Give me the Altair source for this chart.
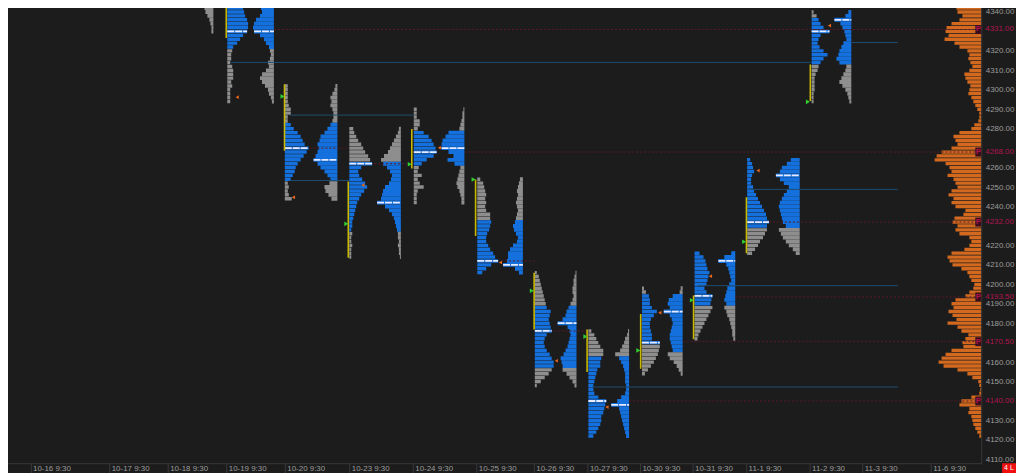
import altair as alt
import pandas as pd

BG = "#1c1c1c"
BLUE = "#1470dc"
GRAY = "#8e8e8e"
VOLC = "#d2691e"
YELLOW = "#c9b800"
GREEN = "#2fd02f"
MARKC = "#e8661e"
STEEL = "#1f4d70"
DOTRED = "#5a1a26"
POCRED = "#b0144f"
TXT = "#9c9c9c"
FONT = "Liberation Sans"

# ---------------- axis data ----------------
day_labels = ["10-16 9:30", "10-17 9:30", "10-18 9:30", "10-19 9:30", "10-20 9:30",
              "10-23 9:30", "10-24 9:30", "10-25 9:30", "10-26 9:30", "10-27 9:30",
              "10-30 9:30", "10-31 9:30", "11-1 9:30", "11-2 9:30", "11-3 9:30", "11-6 9:30"]
day_x = [30.7, 110, 169, 228, 287, 352, 416, 480, 538, 592, 645, 698, 752, 816, 869, 938]
# price labels (those hidden under the POC tags are left out)
price_ticks = [4110, 4120, 4130, 4150, 4160, 4180, 4190, 4200, 4210, 4220, 4240, 4250,
               4260, 4280, 4290, 4300, 4310, 4320, 4340]
X_MAX = 989
Y_MIN, Y_MAX = 4108, 4345.2

# ---------------- daily profiles (2-point rows from top price) ----------------
L_1018 = [2, 2, 2, 2]
R_1018 = [11, 12, 14, 12, 9, 8, 6, 4, 3, 2, 2]
L_1019 = [14, 15, 16, 16, 16, 17, 18, 20, 21, 21, 20, 16, 13, 10, 6, 5, 4, 4, 3, 5, 6, 6, 6, 4, 5, 3, 3, 3, 3]
R_1019 = [17, 17, 17, 15, 13, 12, 14, 18, 20, 21, 20, 14, 10, 8, 5, 4, 3, 4, 6, 5, 8, 12, 14, 12, 9, 6, 5, 3, 2]
L_1020 = [3, 3, 3, 3, 3, 4, 6, 6, 3, 3, 6, 9, 13, 16, 18, 20, 24, 22, 19, 16, 13, 11, 10, 8, 6, 3, 4, 3, 4, 7]
R_1020 = [2, 3, 5, 7, 6, 7, 5, 4, 4, 5, 7, 10, 13, 17, 18, 20, 19, 20, 22, 24, 20, 17, 13, 10, 7, 8, 13, 12, 9, 6]
L_1023 = [4, 5, 7, 9, 12, 14, 16, 19, 21, 23, 12, 9, 10, 13, 16, 18, 15, 12, 10, 8, 7, 6, 5, 4, 3, 3, 2, 3, 2, 2, 3, 2, 2, 2]
R_1023 = [2, 3, 5, 7, 9, 11, 13, 17, 20, 18, 14, 11, 9, 10, 12, 16, 18, 19, 20, 24, 16, 12, 9, 7, 6, 5, 4, 3, 3, 2, 3, 2, 2, 1]
L_1024 = [3, 3, 3, 6, 6, 4, 10, 15, 18, 20, 22, 23, 20, 13, 8, 5, 4, 8, 4, 6, 10, 4, 3, 3, 3]
R_1024 = [1, 2, 2, 3, 4, 5, 16, 19, 22, 23, 23, 16, 11, 17, 10, 4, 5, 6, 7, 8, 7, 5, 4, 3, 3]
L_1025 = [3, 6, 7, 8, 9, 8, 9, 8, 9, 13, 13, 14, 13, 12, 10, 9, 9, 11, 13, 16, 18, 21, 14, 9, 5]
R_1025 = [3, 4, 5, 6, 5, 6, 7, 6, 5, 6, 7, 8, 10, 9, 7, 5, 6, 10, 13, 15, 15, 16, 20, 8, 4]
L_1026 = [2, 4, 5, 6, 7, 8, 9, 10, 11, 12, 16, 15, 14, 15, 16, 17, 12, 10, 9, 10, 12, 15, 17, 19, 19, 17, 14, 10, 6, 2]
R_1026 = [1, 2, 3, 3, 4, 4, 3, 4, 6, 8, 10, 11, 14, 19, 9, 7, 6, 7, 8, 9, 11, 13, 16, 15, 14, 14, 10, 7, 4, 2]
L_1027 = [3, 6, 8, 10, 12, 15, 15, 13, 12, 12, 9, 8, 7, 6, 5, 5, 6, 10, 18, 17, 16, 15, 13, 13, 12, 10, 8, 5]
R_1027 = [1, 2, 4, 5, 7, 9, 14, 10, 8, 6, 5, 4, 4, 4, 3, 3, 4, 8, 12, 18, 10, 9, 8, 7, 6, 5, 4, 3]
L_1030 = [2, 4, 7, 8, 8, 10, 15, 12, 9, 8, 8, 9, 10, 10, 18, 18, 17, 16, 14, 12, 9, 6, 3]
R_1030 = [2, 3, 10, 14, 15, 13, 19, 13, 11, 10, 11, 12, 13, 13, 12, 11, 10, 15, 13, 9, 6, 4, 2]
L_1031 = [5, 9, 11, 12, 13, 15, 14, 13, 12, 10, 12, 18, 17, 16, 18, 16, 14, 12, 10, 8, 6, 4, 3]
R_1031 = [4, 11, 17, 9, 7, 6, 5, 4, 6, 8, 9, 10, 11, 9, 11, 9, 8, 6, 5, 4, 3, 3, 2]
L_1101 = [3, 5, 6, 7, 5, 4, 4, 6, 7, 9, 11, 13, 15, 17, 19, 20, 22, 20, 20, 18, 16, 13, 11, 8, 5]
R_1101 = [9, 13, 18, 20, 24, 20, 16, 11, 13, 16, 18, 20, 21, 20, 19, 18, 17, 14, 21, 19, 17, 14, 11, 7, 4]
L_1102 = [2, 5, 7, 9, 12, 18, 9, 7, 6, 8, 12, 16, 12, 9, 7, 6, 4, 3, 3, 3, 3, 2, 2, 2]
R_1102 = [3, 6, 17, 11, 9, 7, 6, 5, 8, 10, 12, 13, 15, 12, 5, 6, 8, 10, 12, 9, 6, 4, 3, 2]

# left start, right end, top price, left widths, right widths, left VA, right VA, left POC, right POC
profiles = [
    (170, 215, 4350, L_1018, R_1018, None, None, None, None),
    (229, 276, 4350, L_1019, R_1019, (4322, 4350), (4322, 4350), 4330, 4330),
    (287, 340, 4302, L_1020, R_1020, (4254, 4282), (4254, 4282), 4270, 4264),
    (352, 404, 4280, L_1023, R_1023, (4228, 4262), (4228, 4262), 4262, 4242),
    (417, 468, 4290, L_1024, R_1024, (4262, 4278), (4262, 4278), 4268, 4270),
    (481, 527, 4254, L_1025, R_1025, (4206, 4232), (4206, 4232), 4212, 4210),
    (539, 581, 4206, L_1026, R_1026, (4158, 4188), (4158, 4188), 4176, 4180),
    (593, 634, 4176, L_1027, R_1027, (4122, 4162), (4122, 4162), 4140, 4138),
    (647, 688, 4198, L_1030, R_1030, (4170, 4194), (4166, 4194), 4170, 4186),
    (700, 741, 4216, L_1031, R_1031, (4190, 4216), (4190, 4216), 4194, 4212),
    (753, 806, 4264, L_1101, R_1101, (4230, 4264), (4230, 4264), 4232, 4256),
    (818, 858, 4340, L_1102, R_1102, (4314, 4336), (4314, 4340), 4330, 4336),
]

# composite volume profile on the right edge
vol_top = 4344
vol_w = [26, 25, 24, 19, 22, 30, 35, 36, 33, 37, 27, 22, 14, 12, 13, 11, 9, 12, 17, 16,
         14, 11, 12, 13, 10, 8, 6, 4, 2, 2, 3, 7, 10, 22, 28, 26, 24, 30, 40, 45,
         47, 36, 32, 30, 34, 28, 26, 24, 30, 33, 28, 30, 26, 16, 18, 27, 29, 24, 26, 22,
         12, 10, 12, 17, 30, 34, 32, 29, 20, 14, 12, 10, 7, 8, 12, 16, 26, 30, 28, 33,
         29, 25, 34, 24, 20, 13, 16, 19, 18, 30, 36, 40, 43, 38, 24, 14, 9, 3, 2, 1,
         2, 10, 20, 22, 12, 13, 10, 9, 8, 6, 4, 2]

# initial balance (yellow), open (green), close (orange)
ib_x = [228, 286.7, 351, 415, 479.3, 538.3, 591.7, 645.7, 699, 752.3, 816.7]
ib_hi = [4346, 4302.9, 4252.9, 4279.9, 4253.9, 4205.9, 4176.8, 4184.7, 4194.2, 4244.8, 4313]
ib_lo = [4326.6, 4268.7, 4213.6, 4259.5, 4224.8, 4176.8, 4154.9, 4156.6, 4171.7, 4216, 4294.2]
open_x = [284.7, 349, 413, 477.3, 536, 590, 643.3, 697.3, 750, 814.3]
open_p = [4296.6, 4231.1, 4261.7, 4253.9, 4196.7, 4173.1, 4166, 4191.8, 4221.9, 4293.8]
close_x = [239, 295.7, 365.7, 442.7, 504.3, 560.7, 611.7, 665, 716, 764, 836]
close_p = [4296.2, 4244.7, 4251, 4270.2, 4211.2, 4160.7, 4136.9, 4185.4, 4204.2, 4258.5, 4333]

# extended level lines
steel_x0 = [232, 858, 292, 292, 597, 703, 755]
steel_x1 = [817, 905, 417, 352, 905, 905, 905]
steel_p = [4314.1, 4324.3, 4287.0, 4253.4, 4147.2, 4199.3, 4248.8]
naked_p = [4331, 4268, 4232, 4193.5, 4170.5, 4140, 4270, 4262, 4212, 4176]
naked_x0 = [276, 469, 775, 741, 688, 634, 312, 377, 505, 558]
naked_x1 = [985, 985, 985, 985, 985, 985, 352, 413, 540, 593]
poc_levels = [4331, 4268, 4232, 4193.5, 4170.5, 4140]

# ---------------- tables ----------------
bars, pocs = [], []
for xl, xr, top, Lw, Rw, lva, rva, lpoc, rpoc in profiles:
    for i, w in enumerate(Lw):
        p = top - 2 * i
        kind = "va" if (lva and lva[0] <= p <= lva[1]) else "out"
        bars.append(dict(xa=xl, xb=xl + w, ya=p - 0.88, yb=p + 0.88, kind=kind))
        if p == lpoc:
            pocs.append(dict(xa=xl, xb=xl + w, y=p))
    for i, w in enumerate(Rw):
        p = top - 2 * i
        kind = "va" if (rva and rva[0] <= p <= rva[1]) else "out"
        bars.append(dict(xa=xr - w, xb=xr, ya=p - 1, yb=p + 1, kind=kind))
        if p == rpoc:
            pocs.append(dict(xa=xr - w, xb=xr, y=p))
for i, w in enumerate(vol_w):
    p = vol_top - 2 * i
    bars.append(dict(xa=X_MAX - w, xb=X_MAX, ya=p - 0.85, yb=p + 0.85, kind="vol"))
df_bars = pd.DataFrame(bars)
df_poc = pd.DataFrame(pocs)
df_ib = pd.DataFrame(dict(x=ib_x, hi=ib_hi, lo=ib_lo))
df_open = pd.DataFrame(dict(x=open_x, p=open_p))
df_close = pd.DataFrame(dict(x=close_x, p=close_p))
df_steel = pd.DataFrame(dict(xa=steel_x0, xb=steel_x1, p=steel_p))
df_naked = pd.DataFrame(dict(xa=naked_x0, xb=naked_x1, p=naked_p))
df_lab = pd.DataFrame(dict(p=poc_levels,
                           lo=[v - 2.3 for v in poc_levels],
                           hi=[v + 2.3 for v in poc_levels],
                           txt=[f"{v:.2f}" for v in poc_levels]))

xs = alt.Scale(domain=[0, X_MAX], nice=False, zero=False)
ys = alt.Scale(domain=[Y_MIN, Y_MAX], nice=False, zero=False)

expr = " : ".join(f"datum.value == {v} ? '{l}'" for v, l in zip(day_x, day_labels)) + " : ''"
x_axis = alt.Axis(values=day_x, labelExpr=expr, grid=False, title=None, ticks=True, tickSize=11,
                  tickColor="#3a3a3a", domainColor="#3a3a3a", labelColor=TXT, labelFont=FONT,
                  labelFontSize=8, labelAlign="left", labelBaseline="top", labelPadding=-10,
                  labelOffset=2, labelFlush=False, labelOverlap=False, labelBound=False)
y_axis = alt.Axis(orient="right", values=price_ticks, format=".2f", grid=False, title=None,
                  ticks=False, labelPadding=4, labelColor=TXT, labelFont=FONT, labelFontSize=8,
                  domainColor="#3a3a3a", labelFlush=False, labelOverlap=False, labelBound=False)


def X(f):
    return alt.X(f, scale=xs, axis=x_axis)


def Y(f):
    return alt.Y(f, scale=ys, axis=y_axis)


steel = alt.Chart(df_steel).mark_rule(color=STEEL, strokeWidth=1).encode(
    x=X("xa:Q"), x2="xb:Q", y=Y("p:Q"))
naked = alt.Chart(df_naked).mark_rule(color=DOTRED, strokeWidth=1, strokeDash=[2, 2]).encode(
    x=X("xa:Q"), x2="xb:Q", y=Y("p:Q"))
rects = alt.Chart(df_bars).mark_rect(clip=True).encode(
    x=X("xa:Q"), x2="xb:Q", y=Y("ya:Q"), y2="yb:Q",
    color=alt.Color("kind:N", scale=alt.Scale(domain=["va", "out", "vol"],
                                              range=[BLUE, GRAY, VOLC]), legend=None))
poc = alt.Chart(df_poc).mark_rule(color="#e8eaff", strokeWidth=1.8, strokeDash=[7, 1]).encode(
    x=X("xa:Q"), x2="xb:Q", y=Y("y:Q"))
ib = alt.Chart(df_ib).mark_rule(color=YELLOW, strokeWidth=1.6, clip=True).encode(
    x=X("x:Q"), y=Y("hi:Q"), y2="lo:Q")
opn = alt.Chart(df_open).mark_point(shape="triangle-right", filled=True, size=22,
                                     color=GREEN, opacity=1).encode(x=X("x:Q"), y=Y("p:Q"))
cls = alt.Chart(df_close).mark_point(shape="triangle-left", filled=True, size=14,
                                      color=MARKC, opacity=1).encode(x=X("x:Q"), y=Y("p:Q"))
p_box = alt.Chart(df_lab).mark_rect(color="#3a0e1c").encode(
    x=alt.value(983), x2=alt.value(989), y=Y("lo:Q"), y2="hi:Q")
p_txt = alt.Chart(df_lab).mark_text(text="P", font=FONT, fontSize=8, fontWeight="bold",
                                     color=POCRED, align="center", baseline="middle").encode(
    x=alt.value(986), y=Y("p:Q"))
lab_txt = alt.Chart(df_lab).mark_text(font=FONT, fontSize=8, color=POCRED, align="left",
                                       baseline="middle").encode(
    x=alt.value(993), y=Y("p:Q"), text="txt:N")
tag = pd.DataFrame(dict(t=["4 L"]))
tag_box = alt.Chart(tag).mark_rect(color="#f01010").encode(
    x=alt.value(1010), x2=alt.value(1030), y=alt.value(465), y2=alt.value(480))
tag_txt = alt.Chart(tag).mark_text(font=FONT, fontSize=7, color="white", align="left",
                                    baseline="middle").encode(
    x=alt.value(1012), y=alt.value(470), text="t:N")

chart = alt.layer(rects, steel, naked, poc, ib, opn, cls, p_box, p_txt, lab_txt,
                  tag_box, tag_txt).properties(
    width=X_MAX, height=465,
    padding={"left": -8, "top": -8, "right": 35, "bottom": 8},
    autosize=alt.AutoSizeParams(type="none"),
).configure(background=BG).configure_view(strokeWidth=0)

chart.save("out.html", embed_options={"renderer": "svg", "actions": False})
